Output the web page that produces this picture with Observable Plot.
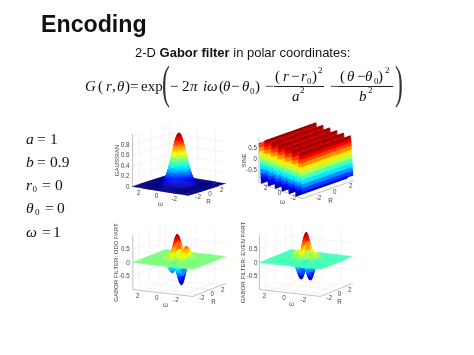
<!DOCTYPE html>
<html><head><meta charset="utf-8">
<script src="https://cdn.jsdelivr.net/npm/d3@7"></script>
<script src="https://cdn.jsdelivr.net/npm/@observablehq/plot@0.6"></script>
<style>
html,body{margin:0;padding:0;background:#fff;width:474px;height:355px;overflow:hidden}
#page{position:relative;width:474px;height:355px;filter:blur(.45px)}
#page svg{position:absolute;left:0;top:0}
.t{position:absolute;line-height:1;white-space:pre;color:#111}
.rule{position:absolute;height:1px;background:#222}
</style></head><body><div id="page"></div>
<script>
// ---------- values ----------
const pageTitle = "Encoding";
const subtitleParts = ["2-D ", "Gabor filter", " in polar coordinates:"];
const paramNames = ["a", "b", "r", "θ", "ω"];
const paramValues = ["1", "0.9", "0", "0", "1"];
// height of the surface along theta = 0, 1/16, 2/16 ... 2
const gaussThetaSection = [1,.995,.981,.958,.926,.886,.841,.790,.734,.677,.617,.558,.499,.443,.389,.338,.291,.248,.210,.175,.145,.119,.097,.078,.062,.049,.038,.030,.023,.017,.013,.010,.007];
const oddThetaSection = [0,.381,.694,.885,.926,.819,.595,.303,0,-.259,-.436,-.516,-.499,-.409,-.275,-.129,0,.095,.148,.162,.145,.110,.069,.030,0,-.019,-.027,-.028,-.023,-.016,-.009,-.004,0];
const evenThetaSection = [1,.919,.694,.367,0,-.339,-.595,-.730,-.734,-.626,-.436,-.214,0,.170,.275,.312,.291,.229,.148,.067,0,-.046,-.069,-.072,-.062,-.045,-.027,-.011,0,.007,.009,.009,.007];
// falloff along R = 0, 1/8 ... 2, 2.5, 3.14
const rSectionPositions = [0,.125,.25,.375,.5,.625,.75,.875,1,1.125,1.25,1.375,1.5,1.625,1.75,1.875,2,2.5,3.14];
const rSection = [1,.984,.939,.869,.779,.677,.570,.465,.368,.282,.210,.151,.105,.071,.047,.030,.018,.002,0];
// one ripple of the sine panel, every 1/32 of a period
const sineCycle = [0,.195,.383,.556,.707,.831,.924,.981,1,.981,.924,.831,.707,.556,.383,.195,0,-.195,-.383,-.556,-.707,-.831,-.924,-.981,-1,-.981,-.924,-.831,-.707,-.556,-.383,-.195];
const sineEdgeValue = .77;
const planarTicks = [-2, 0, 2];
const gaussZTicks = [0, .2, .4, .6, .8];
const signedZTicks = [-.5, 0, .5];
const zTitles = ["GAUSSIAN", "SINE", "GABOR FILTER: ODD PART", "GABOR FILTER: EVEN PART"];
const LIM = 3.14;

// ---------- views (screen placement of each small 3-D box) ----------
const views = [
 {cx:178.5,cy:184.5,tx:-8.9,ty:-1.43,rx:5.9,ry:-1.9,zs:52,floor:0,top:1,cmin:0,cmax:1,zt:gaussZTicks,
  off:{t:[-4,5],r:[3,4],z:[-3,0]},tTitle:[160,203],rTitle:[208,201],zTitle:[117,160]},
 {cx:305.5,cy:159,tx:-6.9,ty:-2.6,rx:8.1,ry:-2.86,zs:22,floor:-1,top:1,cmin:-1,cmax:1,zt:signedZTicks,
  off:{t:[-1,2.5],r:[7,2.5],z:[-2,-1]},tTitle:[282,201],rTitle:[330,200],zTitle:[244,160]},
 {cx:178.8,cy:259,tx:-9.55,ty:-1.1,rx:5.25,ry:-2.07,zs:27,floor:-1,top:1,cmin:-.926,cmax:.926,zt:signedZTicks,
  off:{t:[-6,5],r:[3,4],z:[-3,0]},tTitle:[165,304],rTitle:[213,301],zTitle:[116,262]},
 {cx:305.5,cy:259,tx:-9.7,ty:-1.1,rx:5.1,ry:-2.07,zs:27,floor:-1,top:1,cmin:-.8,cmax:1,zt:signedZTicks,
  off:{t:[-6,5],r:[3,4],z:[-2,0]},tTitle:[291,303],rTitle:[339,301],zTitle:[243,262]}
];
const project = (v,t,r,z) => ({x:v.cx+v.tx*t+v.rx*r, y:v.cy+v.ty*t+v.ry*r-v.zs*z});

// ---------- tables for the marks ----------
const thetaHalf = gaussThetaSection.map((_,i)=>i/16);
const mirrorTheta = (sec,sign) => {
  const out=[{t:-LIM,z:0}];
  for(let i=sec.length-1;i>0;i--) out.push({t:-thetaHalf[i],z:sign*sec[i]});
  for(let i=0;i<sec.length;i++) out.push({t:thetaHalf[i],z:sec[i]});
  out.push({t:LIM,z:0});
  return out;
};
const rProfile = [];
for(let i=rSection.length-1;i>0;i--) rProfile.push({r:-rSectionPositions[i],w:rSection[i]});
for(let i=0;i<rSection.length;i++) rProfile.push({r:rSectionPositions[i],w:rSection[i]});

const sineTheta=[{t:-LIM,z:-sineEdgeValue}];
for(let k=-100;k<=100;k++) sineTheta.push({t:k/32,z:sineCycle[((k%32)+32)%32]});
sineTheta.push({t:LIM,z:sineEdgeValue});
const sineR=[{r:-LIM,w:1},{r:LIM,w:1}];

const surfaces=[
 [mirrorTheta(gaussThetaSection,1),rProfile],
 [sineTheta,sineR],
 [mirrorTheta(oddThetaSection,-1),rProfile],
 [mirrorTheta(evenThetaSection,1),rProfile]
];

const facets=[]; let fid=0;
surfaces.forEach(([ts,rs],p)=>{
  const v=views[p];
  for(let i=ts.length-2;i>=0;i--) for(let j=rs.length-2;j>=0;j--){
    const cs=[[i,j],[i+1,j],[i+1,j+1],[i,j+1]];
    const zs=cs.map(([a,b])=>ts[a].z*rs[b].w);
    const c=(d3.mean(zs)-v.cmin)/(v.cmax-v.cmin);
    cs.forEach(([a,b],n)=>{const q=project(v,ts[a].t,rs[b].r,zs[n]);facets.push({x:q.x,y:q.y,id:fid,c});});
    fid++;
  }
});

const gridRows=[],axisRows=[],tickText=[],titleText=[]; let gid=0;
const seg=(store,v,pts)=>{pts.forEach(a=>{const q=project(v,a[0],a[1],a[2]);store.push({x:q.x,y:q.y,id:gid});});gid++;};
views.forEach((v,p)=>{
  const f=v.floor,T=v.top;
  planarTicks.forEach(k=>{
    seg(gridRows,v,[[k,-LIM,f],[k,LIM,f],[k,LIM,T]]);
    seg(gridRows,v,[[-LIM,k,f],[LIM,k,f],[LIM,k,T]]);
  });
  v.zt.forEach(z=>seg(gridRows,v,[[LIM,-LIM,z],[LIM,LIM,z],[-LIM,LIM,z]]));
  seg(gridRows,v,[[LIM,LIM,f],[LIM,LIM,T]]);
  seg(axisRows,v,[[LIM,-LIM,T],[LIM,-LIM,f],[-LIM,-LIM,f],[-LIM,LIM,f]]);
  planarTicks.forEach(k=>{
    const a=project(v,k,-LIM,f); tickText.push({x:a.x+v.off.t[0],y:a.y+v.off.t[1],s:String(k)});
    const b=project(v,-LIM,k,f); tickText.push({x:b.x+v.off.r[0],y:b.y+v.off.r[1],s:String(k)});
  });
  v.zt.forEach(z=>{
    const a=project(v,LIM,-LIM,z); tickText.push({x:a.x+v.off.z[0],y:a.y+v.off.z[1],s:String(z),anchor:"end"});
  });
  tickText.push({x:v.tTitle[0],y:v.tTitle[1],s:"ω"});
  tickText.push({x:v.rTitle[0],y:v.rTitle[1],s:"R"});
  titleText.push({x:v.zTitle[0],y:v.zTitle[1],s:zTitles[p]});
});

const chart=Plot.plot({
  width:474,height:355,margin:0,
  style:{background:"transparent"},
  x:{domain:[0,474],range:[0,474],axis:null},
  y:{domain:[0,355],range:[0,355],axis:null},
  color:{type:"linear",domain:[0,.125,.375,.625,.875,1],
         range:["#00007f","#0000ff","#00ffff","#ffff00","#ff0000","#7f0000"],interpolate:"rgb",clamp:true},
  marks:[
    Plot.line(gridRows,{x:"x",y:"y",z:"id",stroke:"#ececec",strokeWidth:.6}),
    Plot.line(axisRows,{x:"x",y:"y",z:"id",stroke:"#999",strokeWidth:.6}),
    Plot.line(facets,{x:"x",y:"y",z:"id",fill:"c",stroke:"c",strokeWidth:.35}),
    Plot.text(tickText.filter(d=>!d.anchor),{x:"x",y:"y",text:"s",fontSize:6.3,fill:"#444",fontFamily:"Liberation Sans"}),
    Plot.text(tickText.filter(d=>d.anchor),{x:"x",y:"y",text:"s",fontSize:6.3,fill:"#444",textAnchor:"end",fontFamily:"Liberation Sans"}),
    Plot.text(titleText,{x:"x",y:"y",text:"s",fontSize:6.1,fill:"#444",rotate:-90,fontFamily:"Liberation Sans"})
  ]
});
const page=document.getElementById("page");
page.appendChild(chart);

// ---------- slide text ----------
const SERIF="'Liberation Serif'",SANS="'Liberation Sans'";
function put(s,x,base,size,o={}){
  const e=document.createElement("div");e.className="t";e.textContent=s;
  e.style.cssText=`left:${x}px;top:${base-.84*size}px;font-size:${size}px;font-family:${o.f||SERIF};`+
    `font-style:${o.i?"italic":"normal"};font-weight:${o.b?"bold":"normal"};`+(o.css||"");
  page.appendChild(e);return e;
}
const rule=(x,y,w)=>{const e=document.createElement("div");e.className="rule";e.style.left=x+"px";e.style.top=y+"px";e.style.width=w+"px";page.appendChild(e);};

put(pageTitle,41,32,23.2,{f:SANS,b:true});
const sub=put("",135,57,13,{f:SANS});
subtitleParts.forEach((s,i)=>{const sp=document.createElement("span");sp.textContent=s;if(i==1)sp.style.fontWeight="bold";sub.appendChild(sp);});

const B=92,S=15,R0=82,D=102;
[["G",85,1],["(",98],["r",106,1],[",",112],["θ",117,1],[")",125],["=",130],["exp",141],
 ["−",170],["2",182],["π",190,1],["i",203,1],["ω",207,1],["(",219],["θ",223,1],["−",231],["θ",242,1],[")",255],["−",265],["−",330]]
 .forEach(([s,x,i])=>put(s,x,B,S,{i}));
put("0",250,B+3,9);
[["(",275],["r",283,1],["−",291],["r",301,1],[")",312],["(",340],["θ",347,1],["−",357],["θ",365,1],[")",378]]
 .forEach(([s,x,i])=>put(s,x,R0,S,{i}));
put("0",307,R0+3,9);put("0",374,R0+3,9);
put("2",318,R0-8,9);put("2",385,R0-8,9);
put("a",292,D,S,{i:1});put("2",300,D-8,9);
put("b",359,D,S,{i:1});put("2",368,D-8,9);
rule(274,86,50);rule(338,86,55);
put("(",162,98.7,47,{css:"transform-origin:0 0;transform:scaleX(.5);color:#333"});
put(")",395,98.7,47,{css:"transform-origin:0 0;transform:scaleX(.5);color:#333"});

const PS=15.5;
const rows=[144,167,190,213,237],eqX=[37,37,42,45,42],valX=[50,50,55,57,53];
paramNames.forEach((n,i)=>{
  put(n,26,rows[i],PS,{i:1});
  if(i==2) put("0",32.5,rows[i]+3,9);
  if(i==3) put("0",35,rows[i]+3,9);
  put("=",eqX[i],rows[i],PS);
  put(paramValues[i],valX[i],rows[i],PS);
});
</script></body></html>
